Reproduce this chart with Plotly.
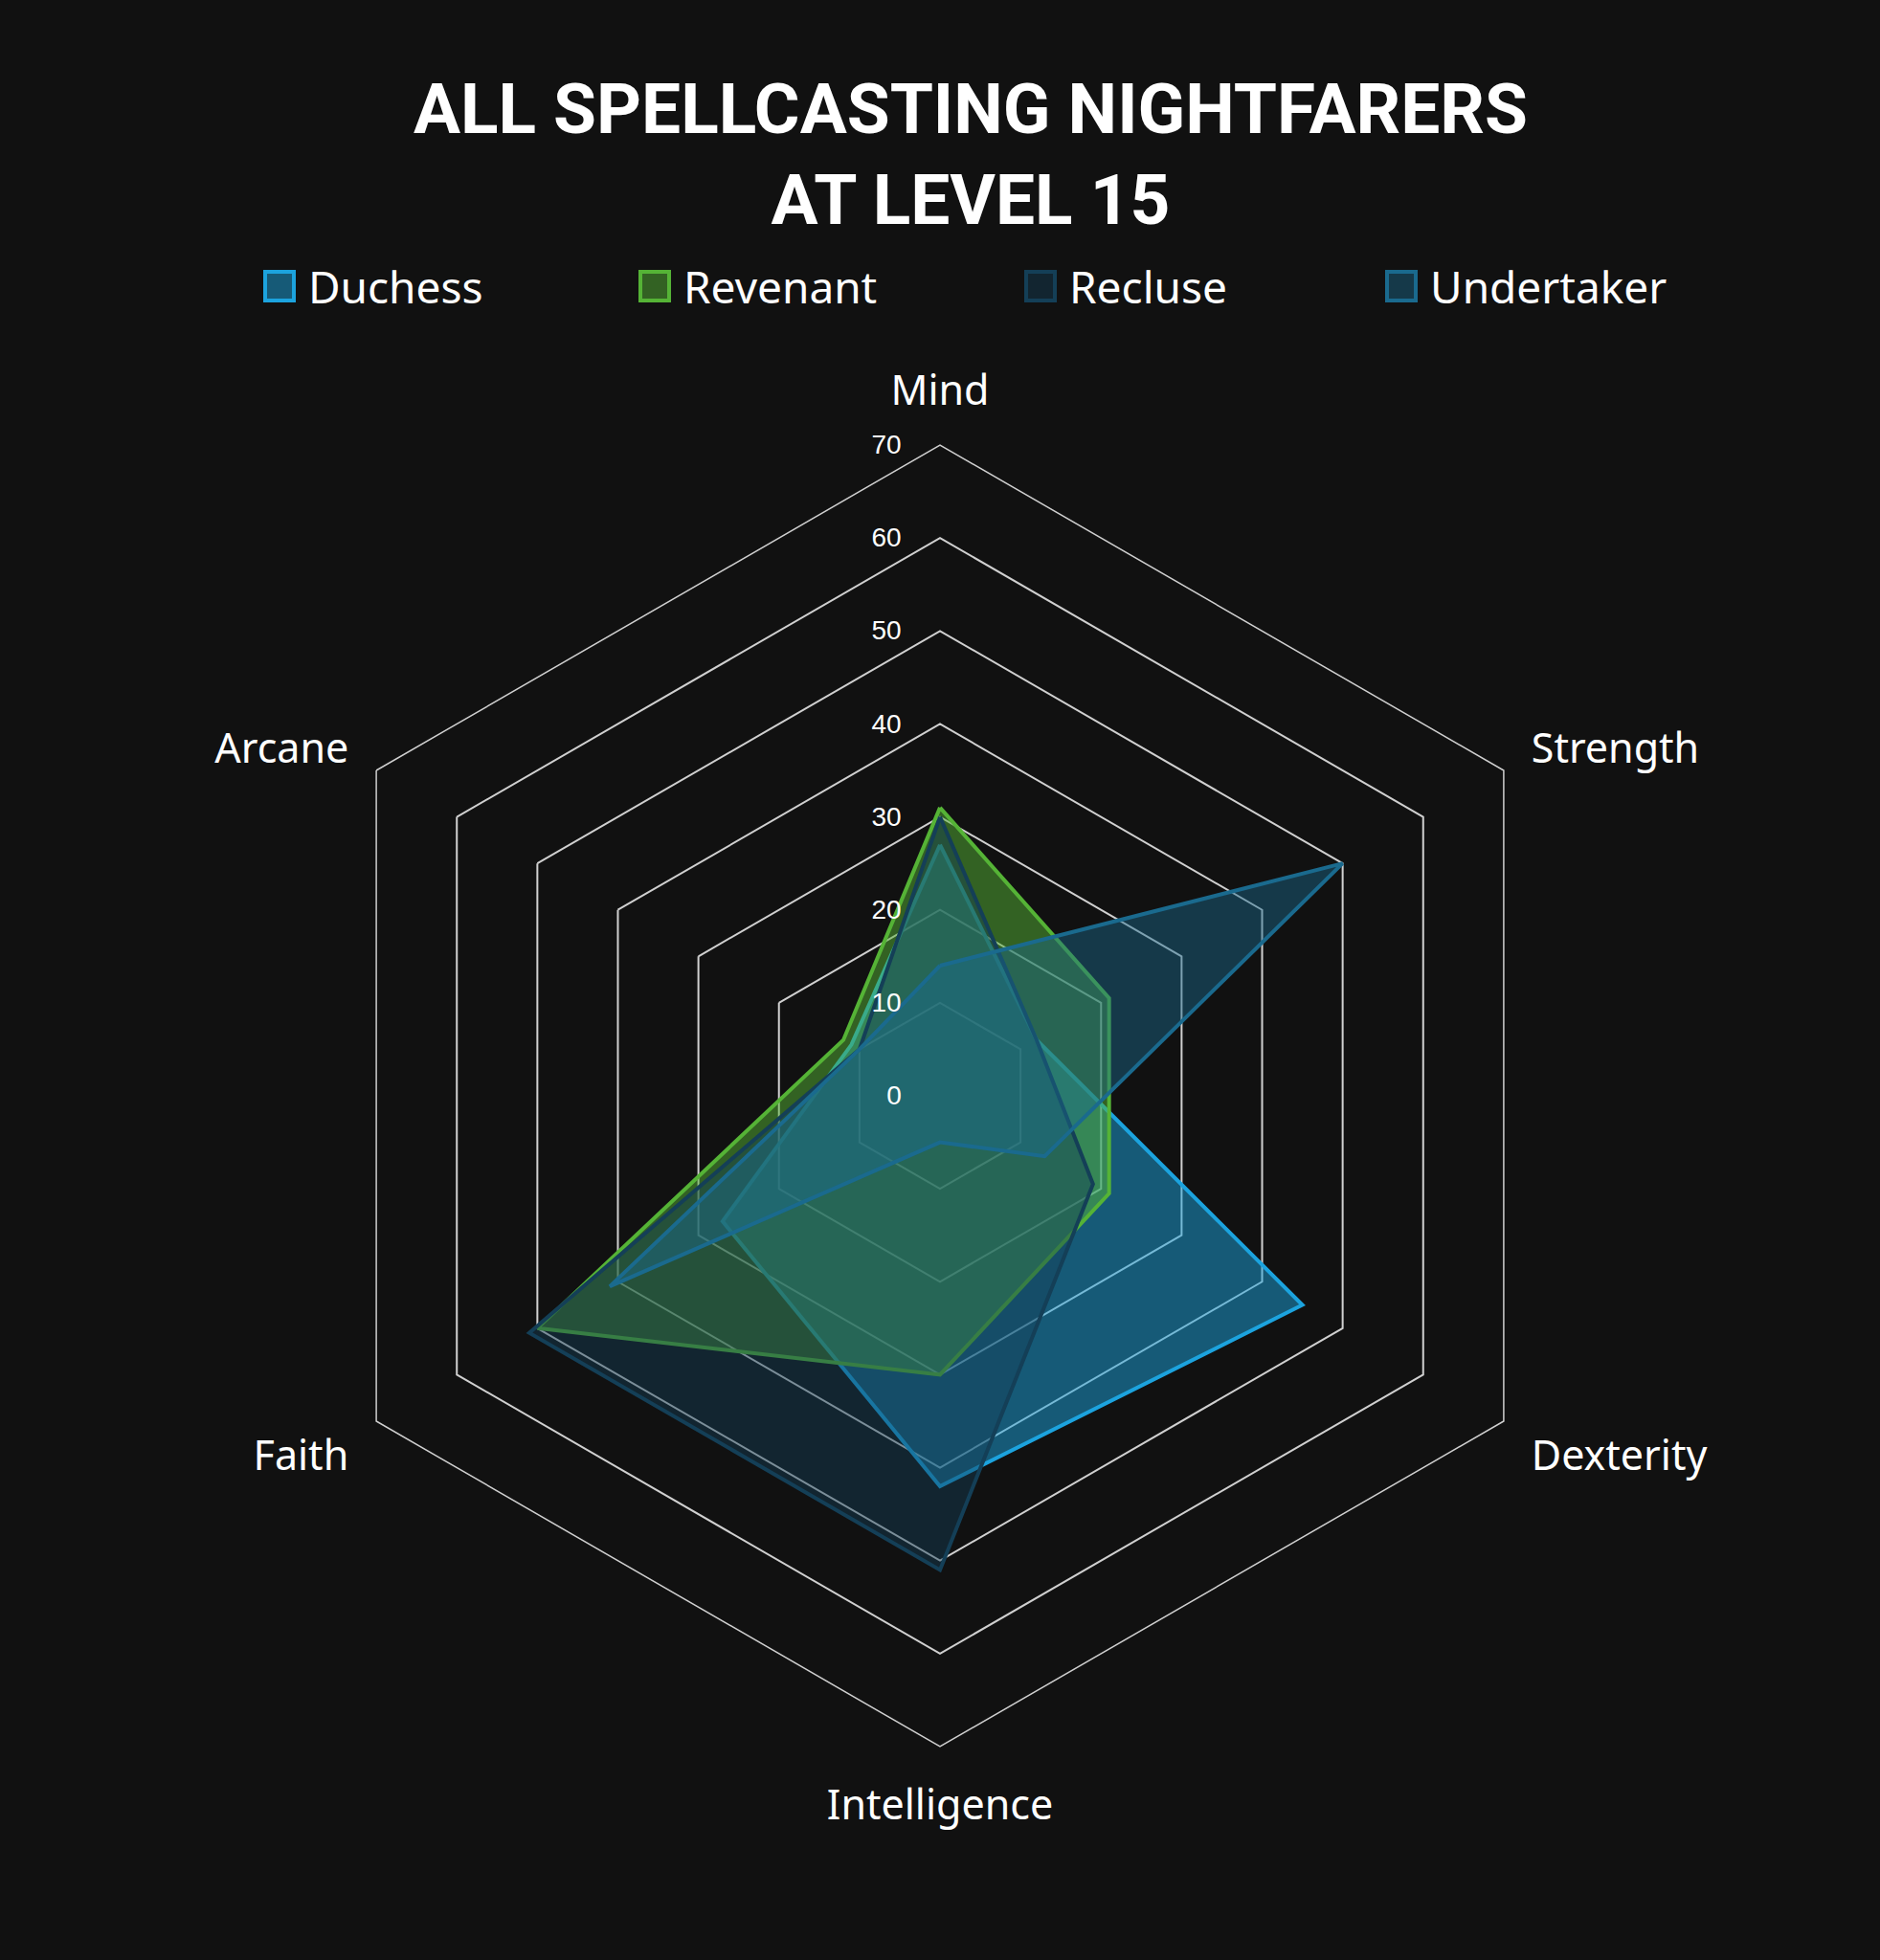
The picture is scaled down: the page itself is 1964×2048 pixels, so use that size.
import plotly.graph_objects as go

# stats per nightfarer at level 15
categories = ['Mind', 'Strength', 'Dexterity', 'Intelligence', 'Faith', 'Arcane']
duchess = [27, 12, 45, 42, 27, 11]
revenant = [31, 21, 21, 30, 50, 12]
recluse = [30, 12, 19, 51, 51, 10]
undertaker = [14, 50, 13, 5, 41, 10]

names = ['Duchess', 'Revenant', 'Recluse', 'Undertaker']
line_colors = ['#1CA3DE', '#55B336', '#143F57', '#1A6A8E']
fill_colors = ['rgba(28,163,222,0.5)', 'rgba(85,179,54,0.5)',
               'rgba(20,63,87,0.45)', 'rgba(26,106,142,0.45)']
bg = '#111111'
grid = '#d0d0d0'
W, H = 1964, 2048

fig = go.Figure()
for name, vals, lc, fc in zip(names, [duchess, revenant, recluse, undertaker],
                              line_colors, fill_colors):
    fig.add_trace(go.Scatterpolar(
        r=vals + vals[:1],
        theta=categories + categories[:1],
        name=name, showlegend=False,
        mode='lines',
        fill='toself',
        fillcolor=fc,
        line=dict(color=lc, width=4),
    ))

# legend drawn by hand: big square swatches like the original
legend_x = [277, 669, 1072, 1449]   # left edge of each swatch, px
box = 30
ly = 299
shapes, annos = [], []
for name, lc, fc, x0 in zip(names, line_colors, fill_colors, legend_x):
    shapes.append(dict(type='rect', xref='paper', yref='paper',
                       x0=x0 / W, x1=(x0 + box) / W,
                       y0=1 - (ly + box / 2) / H, y1=1 - (ly - box / 2) / H,
                       fillcolor=fc, line=dict(color=lc, width=4)))
    annos.append(dict(text=name, xref='paper', yref='paper',
                      x=(x0 + box + 13) / W, y=1 - ly / H,
                      xanchor='left', yanchor='middle', showarrow=False,
                      font=dict(family='Noto Sans', size=46, color='white')))

fig.update_layout(
    width=W, height=H,
    paper_bgcolor=bg, plot_bgcolor=bg,
    margin=dict(l=0, r=0, t=0, b=0),
    showlegend=False,
    shapes=shapes, annotations=annos,
    title=dict(text='ALL SPELLCASTING NIGHTFARERS<br>AT LEVEL 15',
               x=1014 / W, xanchor='center', y=1 - 139 / H, yanchor='middle',
               font=dict(family='Roboto', size=73, color='white', weight='bold')),
    polar=dict(
        bgcolor=bg,
        gridshape='linear',
        domain=dict(x=[(982 - 680) / W, (982 + 680) / W],
                    y=[(903 - 680) / H, (903 + 680) / H]),
        angularaxis=dict(rotation=90, direction='clockwise',
                         showgrid=False, showline=True, linecolor=grid,
                         linewidth=1.5, ticks='outside', ticklen=24,
                         tickcolor='rgba(0,0,0,0)',
                         tickfont=dict(family='Noto Sans', size=43, color='white')),
        radialaxis=dict(range=[0, 70], dtick=10, angle=90, tickangle=90,
                        showline=False, ticks='outside', ticklen=30,
                        tickcolor='rgba(0,0,0,0)',
                        gridcolor=grid, gridwidth=1.5,
                        side='counterclockwise',
                        tickfont=dict(family='Liberation Sans', size=28, color='white')),
    ),
)

fig.write_html('out.html', config={'displayModeBar': False},
               post_script="document.body.style.margin='0';"
                           "document.body.style.background='#111111';")
